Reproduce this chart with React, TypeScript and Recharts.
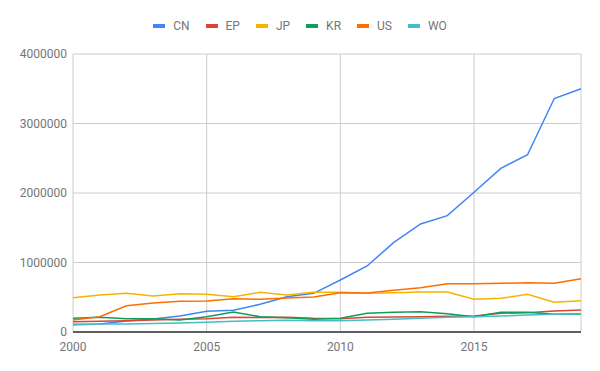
import { LineChart, Line, XAxis, YAxis, CartesianGrid, Legend } from "recharts";

const years = [
  2000, 2001, 2002, 2003, 2004, 2005, 2006, 2007, 2008, 2009,
  2010, 2011, 2012, 2013, 2014, 2015, 2016, 2017, 2018, 2019,
];

const cn = [
  110000, 115000, 158000, 187000, 230000, 300000, 312000, 400000, 508000, 556000,
  748000, 950000, 1290000, 1554000, 1674000, 2010000, 2355000, 2550000, 3360000, 3500000,
];
const ep = [
  149000, 155000, 163000, 172000, 182000, 192000, 211000, 208000, 211000, 197000,
  192000, 211000, 215000, 220000, 225000, 230000, 269000, 278000, 302000, 317000,
];
const jp = [
  494000, 532000, 556000, 518000, 552000, 542000, 508000, 571000, 532000, 571000,
  571000, 556000, 565000, 575000, 575000, 470000, 485000, 542000, 427000, 451000,
];
const kr = [
  197000, 211000, 192000, 192000, 173000, 220000, 288000, 220000, 206000, 182000,
  197000, 269000, 283000, 292000, 264000, 220000, 283000, 283000, 254000, 259000,
];
const us = [
  173000, 220000, 378000, 417000, 441000, 446000, 480000, 470000, 489000, 503000,
  566000, 561000, 600000, 638000, 695000, 695000, 700000, 710000, 700000, 767000,
];
const wo = [
  100000, 115000, 115000, 122000, 130000, 140000, 154000, 163000, 168000, 163000,
  163000, 173000, 182000, 197000, 211000, 220000, 230000, 245000, 254000, 264000,
];

const xTicks = [2000, 2005, 2010, 2015];
const yTicks = [0, 1000000, 2000000, 3000000, 4000000];

const series = [
  { key: "CN", values: cn, color: "#4285F4" },
  { key: "EP", values: ep, color: "#DB4437" },
  { key: "JP", values: jp, color: "#F4B400" },
  { key: "KR", values: kr, color: "#0F9D58" },
  { key: "US", values: us, color: "#FF6D00" },
  { key: "WO", values: wo, color: "#46BDC6" },
];

const data = years.map((year, i) => {
  const row: Record<string, number> = { year };
  series.forEach((s) => {
    row[s.key] = s.values[i];
  });
  return row;
});

const font = "Roboto, 'Noto Sans', sans-serif";

const LegendContent = () => (
  <div style={{ display: "flex", justifyContent: "center", gap: 16, fontFamily: font, fontSize: 12, color: "#757575" }}>
    {series.map((s) => (
      <div key={s.key} style={{ display: "flex", alignItems: "center" }}>
        <span style={{ width: 12, height: 4, background: s.color, marginRight: 8, display: "inline-block" }} />
        <span>{s.key}</span>
      </div>
    ))}
  </div>
);

export default function App() {
  return (
    <div style={{ position: "absolute", left: 0, top: 0, width: 600, height: 371, background: "#fff" }}>
      <LineChart width={600} height={371} data={data} margin={{ top: 54, right: 19, bottom: 9, left: 0 }}>
        <CartesianGrid stroke="#cccccc" strokeWidth={1} />
        <XAxis
          dataKey="year"
          type="number"
          domain={[2000, 2019]}
          ticks={xTicks}
          height={30}
          tickLine={false}
          tickSize={0}
          tickMargin={10}
          axisLine={{ stroke: "#333333", strokeWidth: 1.5 }}
          tick={{ fill: "#757575", fontSize: 12, fontFamily: font }}
        />
        <YAxis
          width={73}
          domain={[0, 4000000]}
          ticks={yTicks}
          tickLine={false}
          axisLine={false}
          tickSize={0}
          tickMargin={6}
          tick={{ fill: "#757575", fontSize: 12, fontFamily: font }}
        />
        <Legend
          layout="horizontal"
          verticalAlign="middle"
          align="center"
          content={<LegendContent />}
          wrapperStyle={{ top: 19, left: 0, width: 600 }}
        />
        {series.map((s) => (
          <Line
            key={s.key}
            type="linear"
            dataKey={s.key}
            stroke={s.color}
            strokeWidth={1.5}
            dot={false}
            activeDot={false}
            isAnimationActive={false}
          />
        ))}
      </LineChart>
    </div>
  );
}
